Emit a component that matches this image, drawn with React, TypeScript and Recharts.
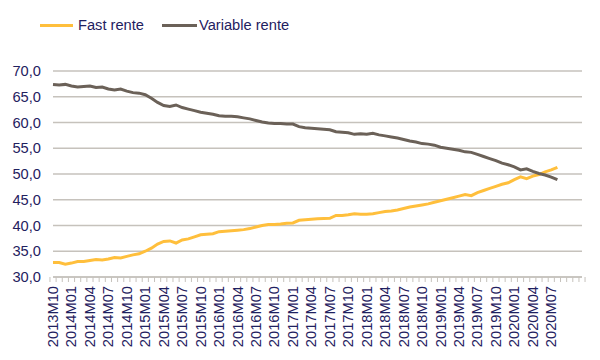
import React from 'react';
import { LineChart, Line, XAxis, YAxis, CartesianGrid, Legend } from 'recharts';

const categories = [
  '2013M10','2013M11','2013M12',
  '2014M01','2014M02','2014M03','2014M04','2014M05','2014M06','2014M07','2014M08','2014M09','2014M10','2014M11','2014M12',
  '2015M01','2015M02','2015M03','2015M04','2015M05','2015M06','2015M07','2015M08','2015M09','2015M10','2015M11','2015M12',
  '2016M01','2016M02','2016M03','2016M04','2016M05','2016M06','2016M07','2016M08','2016M09','2016M10','2016M11','2016M12',
  '2017M01','2017M02','2017M03','2017M04','2017M05','2017M06','2017M07','2017M08','2017M09','2017M10','2017M11','2017M12',
  '2018M01','2018M02','2018M03','2018M04','2018M05','2018M06','2018M07','2018M08','2018M09','2018M10','2018M11','2018M12',
  '2019M01','2019M02','2019M03','2019M04','2019M05','2019M06','2019M07','2019M08','2019M09','2019M10','2019M11','2019M12',
  '2020M01','2020M02','2020M03','2020M04','2020M05','2020M06','2020M07','2020M08','','','','',
];

const fastRente = [
  32.8, 32.8, 32.5, 32.7, 33.0, 33.0, 33.2, 33.4, 33.3, 33.5,
  33.8, 33.7, 34.0, 34.3, 34.5, 35.0, 35.6, 36.4, 36.9, 37.0,
  36.6, 37.2, 37.4, 37.8, 38.2, 38.3, 38.4, 38.8, 38.9, 39.0,
  39.1, 39.2, 39.4, 39.7, 40.0, 40.2, 40.2, 40.3, 40.45, 40.5,
  41.0, 41.1, 41.2, 41.3, 41.35, 41.4, 41.95, 41.95, 42.1, 42.3,
  42.2, 42.2, 42.3, 42.5, 42.7, 42.8, 43.0, 43.3, 43.6, 43.8,
  44.0, 44.2, 44.5, 44.8, 45.1, 45.4, 45.7, 46.0, 45.8, 46.4,
  46.8, 47.2, 47.6, 48.0, 48.3, 48.9, 49.45, 49.1, 49.6, 49.9,
  50.4, 50.8, 51.3,
];

const variabelRente = [
  67.4, 67.3, 67.4, 67.1, 66.9, 67.0, 67.1, 66.8, 66.9, 66.5,
  66.3, 66.5, 66.1, 65.8, 65.7, 65.4, 64.7, 63.9, 63.3, 63.1,
  63.4, 62.9, 62.6, 62.3, 62.0, 61.8, 61.6, 61.3, 61.2, 61.2,
  61.1, 60.9, 60.7, 60.4, 60.1, 59.9, 59.8, 59.8, 59.7, 59.7,
  59.2, 59.0, 58.9, 58.8, 58.7, 58.6, 58.2, 58.1, 58.0, 57.7,
  57.8, 57.7, 57.9, 57.6, 57.4, 57.2, 57.0, 56.7, 56.4, 56.2,
  55.9, 55.8, 55.6, 55.2, 55.0, 54.8, 54.6, 54.3, 54.2, 53.8,
  53.4, 53.0, 52.6, 52.1, 51.8, 51.4, 50.8, 51.0, 50.5, 50.1,
  49.8, 49.4, 48.9,
];

const yTicks = [30, 35, 40, 45, 50, 55, 60, 65, 70];

const seriesNames = { fast: 'Fast rente', variable: 'Variable rente' };
const colors = { fast: '#FFBF3C', variable: '#6B6158' };
const labelColor = '#1F2160';
const gridColor = '#C6C2BC';
const font = '"Liberation Sans", Arial, sans-serif';
const FONT_SIZE = 14.67;

const data = categories.map((c, i) => ({
  cat: c || `_${i}`,
  label: c,
  fast: i < fastRente.length ? fastRente[i] : null,
  variable: i < variabelRente.length ? variabelRente[i] : null,
}));

const CHART_W = 592;
const PLOT_LEFT = 45;
const PLOT_RIGHT_MARGIN = 18;
const HALF_BAND = (CHART_W - PLOT_LEFT - PLOT_RIGHT_MARGIN) / categories.length / 2;

const XTick = (props: any) => {
  const { x, y, index } = props;
  const label = categories[index];
  const showLabel = index % 3 === 0 && !!label;
  const isLast = index === categories.length - 1;
  return (
    <g>
      <line x1={x - HALF_BAND} x2={x - HALF_BAND} y1={y} y2={y + 5} stroke={gridColor} strokeWidth={1} />
      {isLast && (
        <line x1={x + HALF_BAND} x2={x + HALF_BAND} y1={y} y2={y + 5} stroke={gridColor} strokeWidth={1} />
      )}
      {showLabel && (
        <text
          x={0}
          y={0}
          transform={`translate(${x},${y + 9}) rotate(-90)`}
          textAnchor="end"
          dominantBaseline="central"
          fill={labelColor}
          fontSize={FONT_SIZE}
          fontFamily={font}
        >
          {label}
        </text>
      )}
    </g>
  );
};

const LegendContent = () => (
  <div style={{ display: 'flex', alignItems: 'center', fontFamily: font, fontSize: FONT_SIZE, color: labelColor }}>
    <span style={{ display: 'inline-block', width: 33, height: 3, background: colors.fast, marginRight: 5 }} />
    <span style={{ marginRight: 18 }}>{seriesNames.fast}</span>
    <span style={{ display: 'inline-block', width: 35, height: 3, background: colors.variable, marginRight: 2 }} />
    <span>{seriesNames.variable}</span>
  </div>
);

export default function App() {
  return (
    <LineChart
      width={CHART_W}
      height={352}
      data={data}
      margin={{ top: 47, right: PLOT_RIGHT_MARGIN, bottom: 8, left: 0 }}
    >
      <CartesianGrid horizontal vertical={false} stroke={gridColor} strokeWidth={1.5} />
      <XAxis
        dataKey="cat"
        interval={0}
        height={75}
        axisLine={{ stroke: gridColor, strokeWidth: 1.5 }}
        tickLine={false}
        tickSize={0}
        tickMargin={0}
        tick={<XTick />}
      />
      <YAxis
        domain={[30, 70]}
        ticks={yTicks}
        width={PLOT_LEFT}
        axisLine={false}
        tickLine={false}
        tickMargin={6}
        tick={{ fill: labelColor, fontSize: FONT_SIZE, fontFamily: font }}
        tickFormatter={(v: number) => v.toFixed(1).replace('.', ',')}
      />
      <Legend
        verticalAlign="top"
        align="left"
        content={<LegendContent />}
        wrapperStyle={{ top: 9, left: 32, width: 'auto' }}
      />
      <Line
        type="linear"
        dataKey="fast"
        name={seriesNames.fast}
        stroke={colors.fast}
        strokeWidth={3}
        dot={false}
        isAnimationActive={false}
      />
      <Line
        type="linear"
        dataKey="variable"
        name={seriesNames.variable}
        stroke={colors.variable}
        strokeWidth={3}
        dot={false}
        isAnimationActive={false}
      />
    </LineChart>
  );
}
